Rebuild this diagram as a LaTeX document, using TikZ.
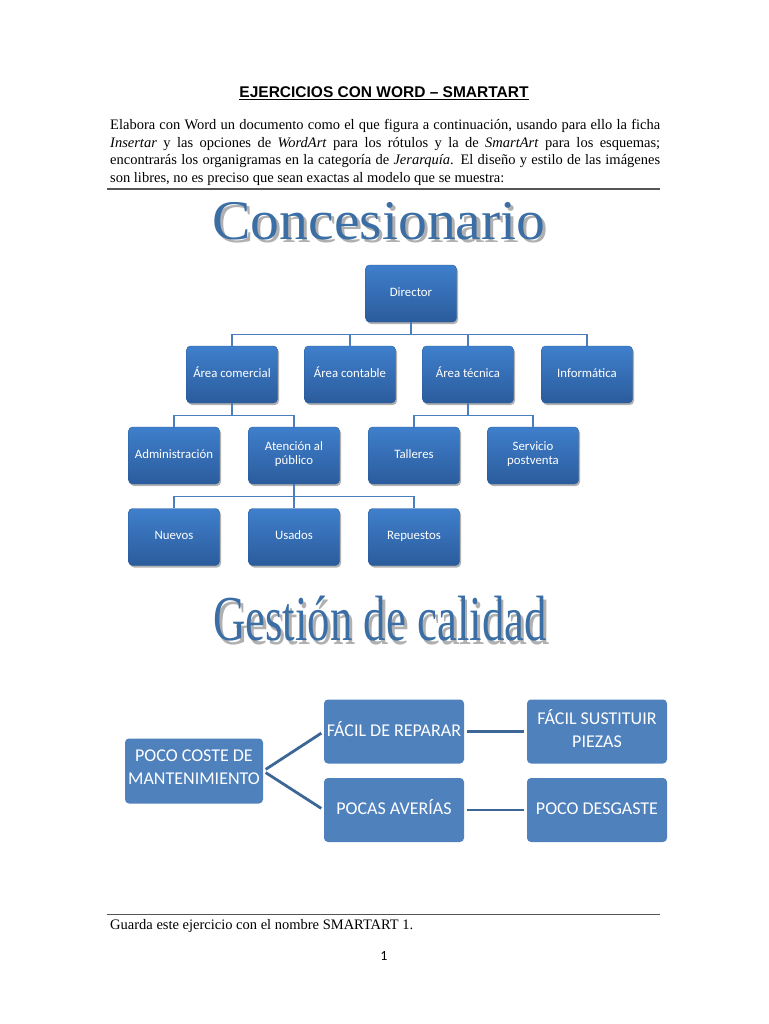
\documentclass[tikz,border=0pt]{standalone}
\usepackage{fontspec}
\setmainfont{Liberation Serif}
\newfontfamily\wafont{Liberation Serif}
\newfontfamily\arialfont{Liberation Sans}
\newfontfamily\calfont{Carlito}
\usetikzlibrary{shadows}
\definecolor{wablue}{HTML}{3A6EA5}
\definecolor{washadow}{HTML}{B0B0B0}
\definecolor{orgtop}{HTML}{3F7FCC}
\definecolor{orgbot}{HTML}{2B5C9C}
\definecolor{orgline}{HTML}{4B7EBE}
\definecolor{gblue}{HTML}{4F81BD}
\definecolor{gline}{HTML}{3B6696}
\definecolor{rulegray}{HTML}{555555}
\newcommand{\shadowtext}[2]{\makebox[0pt][l]{\hspace{#1}\raisebox{-#1}{\color{washadow}#2}}\color{wablue}#2}
\begin{document}
\begin{tikzpicture}[x=1pt,y=-1pt,
  orgbox/.style={rounded corners=4pt, minimum width=91pt, minimum height=57pt,
    top color=orgtop, bottom color=orgbot, draw=orgbot, line width=0.4pt,
    text=white, font=\calfont\fontsize{12.8}{14}\selectfont, align=center,
    execute at begin node={\strut}, execute at end node={\strut},
    drop shadow={shadow xshift=1.5pt, shadow yshift=-2pt, opacity=0.3, fill=black}},
  orgconn/.style={draw=orgline, line width=1.3pt},
  gbox/.style={rounded corners=4pt, fill=gblue, minimum width=140pt, minimum height=64pt,
    text=white, font=\calfont\fontsize{18}{23}\selectfont, align=center, inner xsep=2pt,
    execute at begin node={\strut}, execute at end node={\strut}},
  gconn/.style={draw=gline, line width=2.8pt, shorten <=3pt, shorten >=3pt},
  body/.style={anchor=base west, inner sep=0, font=\fontsize{14.5}{17.7}\selectfont},
  rulel/.style={draw=rulegray, line width=1.5pt},
  wordart/.style={inner sep=0, anchor=base}
]
\useasboundingbox[fill=white] (0,0) rectangle (768,1024);

% Title
\node[anchor=base, inner sep=0, font=\arialfont\bfseries\fontsize{15.5}{18}\selectfont] (title) at (384,98)
  {\underline{EJERCICIOS CON WORD – SMARTART}};

% Paragraph
\node[body] (p1) at (110,129.5) {\makebox[550pt][s]{Elabora con Word un documento como el que figura a continuación, usando para ello la ficha}};
\node[body] (p2) at (110,147.2) {\makebox[550pt][s]{\textit{Insertar} y las opciones de \textit{WordArt} para los rótulos y la de \textit{SmartArt} para los esquemas;}};
\node[body] (p3) at (110,164.9) {\makebox[550pt][s]{encontrarás los organigramas en la categoría de \textit{Jerarquía}. El diseño y estilo de las imágenes}};
\node[body] (p4) at (110,182.6) {son libres, no es preciso que sean exactas al modelo que se muestra:};
\coordinate (r1a) at (107,189);
\coordinate (r1b) at (660,189);
\draw[rulel] (r1a) -- (r1b);

% WordArt Concesionario
\node[wordart, font=\wafont\fontsize{56}{60}\selectfont] (conc) at (379,240)
  {\scalebox{1.03}[1]{\shadowtext{3pt}{Concesionario}}};

% Org chart
\node[orgbox] (dir) at (411,293.5) {Director};
\node[orgbox] (ac) at (232,374.5) {Área comercial};
\node[orgbox] (acon) at (350,374.5) {Área contable};
\node[orgbox] (at) at (468,374.5) {Área técnica};
\node[orgbox] (inf) at (587,374.5) {Informática};
\node[orgbox] (adm) at (174,455.5) {Administración};
\node[orgbox] (atp) at (294,455.5) {Atención al\\público};
\node[orgbox] (tal) at (414,455.5) {Talleres};
\node[orgbox] (spv) at (533,455.5) {Servicio\\postventa};
\node[orgbox] (nue) at (174,537) {Nuevos};
\node[orgbox] (usa) at (294,537) {Usados};
\node[orgbox] (rep) at (414,537) {Repuestos};

\foreach \c in {ac,acon,at,inf} \draw[orgconn] (dir.south) -- ++(0,12) -| (\c.north);
\foreach \c in {adm,atp} \draw[orgconn] (ac.south) -- ++(0,12) -| (\c.north);
\foreach \c in {tal,spv} \draw[orgconn] (at.south) -- ++(0,12) -| (\c.north);
\foreach \c in {nue,usa,rep} \draw[orgconn] (atp.south) -- ++(0,12.5) -| (\c.north);

% WordArt Gestión de calidad
\node[wordart, font=\wafont\fontsize{64}{68}\selectfont] (gest) at (380,640)
  {\scalebox{0.70}[1]{\shadowtext{4pt}{Gestión de calidad}}};

% Gestión chart
\node[gbox, minimum width=138pt, minimum height=65pt] (poco) at (194,771) {POCO COSTE DE\\MANTENIMIENTO};
\node[gbox] (facil) at (394,731.5) {FÁCIL DE REPARAR};
\node[gbox] (pocas) at (394,810) {POCAS AVERÍAS};
\node[gbox] (sust) at (597,731.5) {FÁCIL SUSTITUIR\\PIEZAS};
\node[gbox] (desg) at (597,810) {POCO DESGASTE};
\draw[gconn] (poco.east) -- (facil.west);
\draw[gconn] (poco.east) -- (pocas.west);
\draw[gconn] (facil.east) -- (sust.west);
\draw[gconn] (pocas.east) -- (desg.west);

% Footer
\coordinate (r2a) at (107,914.5);
\coordinate (r2b) at (660,914.5);
\draw[rulel] (r2a) -- (r2b);
\node[body] (foot) at (110,929) {Guarda este ejercicio con el nombre SMARTART 1.};
\node[anchor=base, inner sep=0, font=\calfont\fontsize{14}{16}\selectfont] (pnum) at (384,960) {1};
\end{tikzpicture}
\end{document}
